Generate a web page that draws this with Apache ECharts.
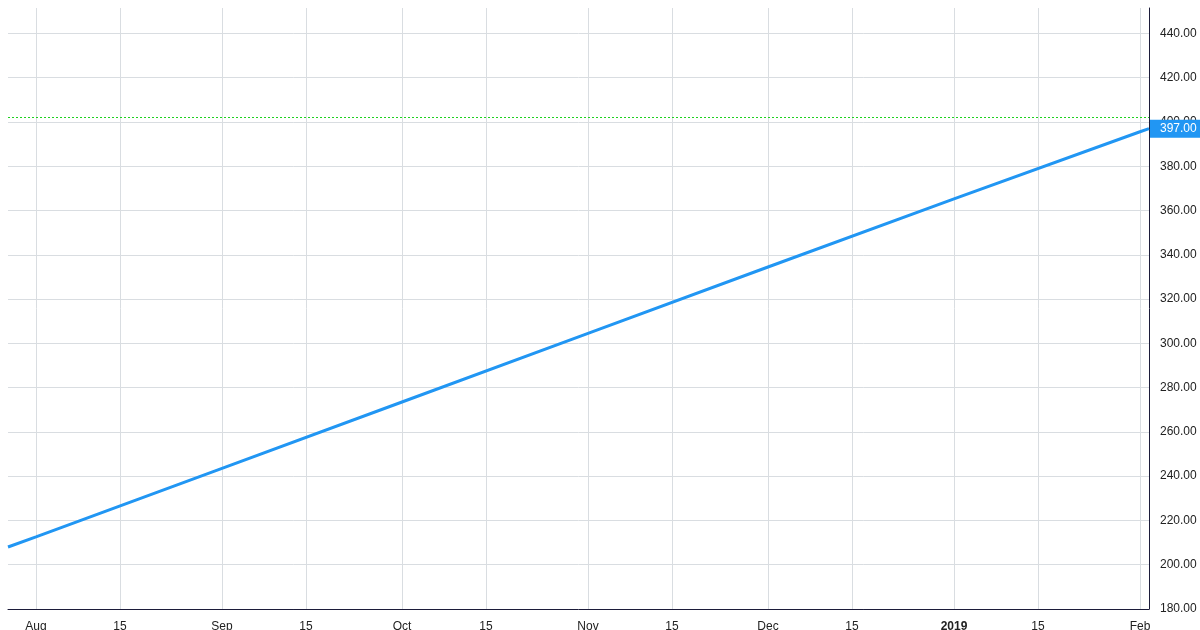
<!DOCTYPE html>
<html>
<head>
<meta charset="utf-8">
<script src="https://cdn.jsdelivr.net/npm/echarts@6/dist/echarts.min.js"></script>
<style>
html,body{margin:0;padding:0;background:#fff;}
#chart{width:1200px;height:630px;}
</style>
</head>
<body>
<div id="chart"></div>
<script>
// Data
const dates = ['2018-07-27 08:00','2018-08-01','2018-09-01','2018-10-01','2018-11-01','2018-12-01','2019-01-01','2019-02-01','2019-02-02 12:00'];
const values = [208, 212.6, 243.5, 273.5, 304.5, 334.5, 365.3, 395.6, 397];
const xTickDates = ['2018-08-01','2018-08-15','2018-09-01','2018-09-15','2018-10-01','2018-10-15','2018-11-01','2018-11-15','2018-12-01','2018-12-15','2019-01-01','2019-01-15','2019-02-01'];
const monthNames = ['Jan','Feb','Mar','Apr','May','Jun','Jul','Aug','Sep','Oct','Nov','Dec'];
const refLevel = 402;
const xMin = '2018-07-27 08:00';
const xMax = '2019-02-02 12:00';

function ts(s){
  const p = s.split(/[- :]/).map(Number);
  return Date.UTC(p[0], p[1]-1, p[2], p[3]||0, p[4]||0);
}

const seriesData = dates.map((d,i)=>[ts(d), values[i]]);
const tickValues = xTickDates.map(d=>ts(d));

const chart = echarts.init(document.getElementById('chart'), null, {renderer:'canvas'});
const axisColor = '#1c1c3a';
const gridColor = '#d9dde1';
const font = 'Liberation Sans, Arial, sans-serif';

chart.setOption({
  animation:false,
  backgroundColor:'#fff',
  grid:{left:8, right:51, top:8, bottom:21, containLabel:false, outerBoundsMode:'none'},
  xAxis:{
    type:'value',
    min: ts(xMin),
    max: ts(xMax),
    axisLine:{show:true, onZero:false, lineStyle:{color:axisColor, width:1}},
    axisTick:{show:false, customValues: tickValues},
    splitLine:{show:true, lineStyle:{color:gridColor, width:1}},
    axisLabel:{
      customValues: tickValues,
      margin:12,
      fontFamily:font, fontSize:12, color:'#222',
      formatter:function(v){
        const d = new Date(v);
        if(d.getUTCDate()===1){
          if(d.getUTCMonth()===0) return '{b|' + d.getUTCFullYear() + '}';
          return monthNames[d.getUTCMonth()];
        }
        return String(d.getUTCDate());
      },
      rich:{b:{fontWeight:'bold', fontFamily:font, fontSize:12, color:'#222'}}
    }
  },
  yAxis:{
    type:'value',
    position:'right',
    min:180, max:451.5, interval:20,
    axisLine:{show:true, onZero:false, lineStyle:{color:axisColor, width:1}},
    axisTick:{show:false},
    splitLine:{show:true, showMaxLine:false, lineStyle:{color:gridColor, width:1}},
    axisLabel:{
      margin:11,
      fontFamily:font, fontSize:12, color:'#222',
      showMaxLabel:false,
      formatter:function(v){ return v.toFixed(2); }
    }
  },
  series:[{
    type:'line',
    data: seriesData,
    showSymbol:false,
    symbol:'none',
    lineStyle:{color:'#2196f3', width:3},
    endLabel:{
      show:true,
      distance:1,
      formatter:function(p){ return p.value[1].toFixed(2); },
      backgroundColor:'#2196f3',
      color:'#fff',
      fontFamily:font, fontSize:12,
      padding:[3,6,3,10]
    },
    markLine:{
      silent:true,
      symbol:['none','none'],
      label:{show:false},
      lineStyle:{color:'#1ed21e', type:[2,2], width:1},
      data:[{yAxis: refLevel}]
    }
  }]
});
</script>
</body>
</html>
